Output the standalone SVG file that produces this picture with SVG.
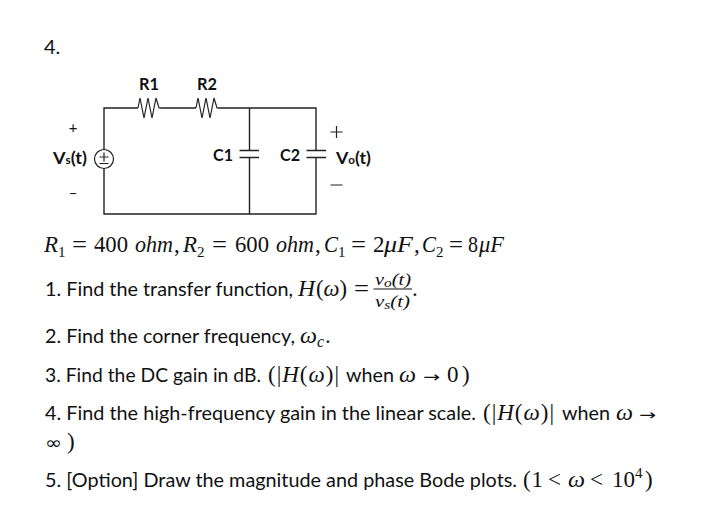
<svg xmlns="http://www.w3.org/2000/svg" width="714" height="529" viewBox="0 0 714 529">
<style>
text{fill:#111;white-space:pre}
.t{font-family:"Lato","Open Sans",sans-serif;font-size:20px}
.b{font-family:"Lato","Open Sans",sans-serif;font-size:17px;font-weight:700}
.l{font-family:"Lato","Open Sans",sans-serif;font-size:15px}
.m{font-family:"Liberation Serif","DejaVu Serif",serif;font-size:23px}
.i{font-family:"Liberation Serif","DejaVu Serif",serif;font-size:23px;font-style:italic}
.s{font-family:"Liberation Serif","DejaVu Serif",serif;font-size:15px}
.si{font-family:"Liberation Serif","DejaVu Serif",serif;font-size:16px;font-style:italic}
.a{font-family:"DejaVu Sans",sans-serif;font-size:15px}
.w{fill:none;stroke:#222;stroke-width:1.4}
.p{fill:none;stroke:#222;stroke-width:1.2}
</style>
<text class="t" x="44" y="54">4.</text>

<g id="connectors">
<path class="w" d="M104 150V108H138M160.500 108H196M218 108H316V151M316 157V214H104V168"/>
<path class="w" d="M249.500 108V151M249.500 157V214"/>
</g>
<g id="R1">
<path class="p" d="M138 108l2-10 4 20 4-20 4 20 4-20 3 10h2"/>
<text class="b" x="139" y="90" textLength="20" lengthAdjust="spacingAndGlyphs">R1</text>
</g>
<g id="R2">
<path class="p" d="M196 108l2-10 4 20 4-20 4 20 4-20 3 10h1"/>
<text class="b" x="197" y="90" textLength="20" lengthAdjust="spacingAndGlyphs">R2</text>
</g>
<g id="Vs">
<circle class="p" cx="104" cy="159" r="9.500"/>
<path class="p" d="M99.500 157h9M104 152.500v9M99.500 163.500h9"/>
<text class="b" x="53" y="164" textLength="34" lengthAdjust="spacingAndGlyphs">V<tspan font-size="11">s</tspan>(t)</text>
<text class="l" x="73" y="133" text-anchor="middle">+</text>
<text class="l" x="73" y="198" text-anchor="middle">–</text>
</g>
<g id="C1">
<path class="w" d="M239.500 150.500h19.500M239.500 157.500h19.500"/>
<text class="b" x="213" y="161" textLength="20" lengthAdjust="spacingAndGlyphs">C1</text>
</g>
<g id="C2">
<path class="w" d="M306.500 150.500h19.500M306.500 157.500h19.500"/>
<text class="b" x="280" y="161" textLength="20" lengthAdjust="spacingAndGlyphs">C2</text>
<path class="p" d="M330.500 132h12M336.500 126v12M330.500 185h12"/>
<text class="b" x="336" y="164" textLength="35" lengthAdjust="spacingAndGlyphs">V<tspan font-size="11">o</tspan>(t)</text>
</g>

<g id="values">
<text class="i" x="44" y="252" textLength="14" lengthAdjust="spacingAndGlyphs">R</text><text class="s" x="58" y="257">1</text>
<text class="m" x="72" y="252" textLength="15" lengthAdjust="spacingAndGlyphs">=</text><text class="m" x="94" y="252" textLength="34" lengthAdjust="spacingAndGlyphs">400</text>
<text class="i" x="135" y="252" textLength="38" lengthAdjust="spacingAndGlyphs">ohm</text><text class="m" x="174" y="252">,</text>
<text class="i" x="183" y="252" textLength="14" lengthAdjust="spacingAndGlyphs">R</text><text class="s" x="197" y="257">2</text>
<text class="m" x="212" y="252" textLength="15" lengthAdjust="spacingAndGlyphs">=</text><text class="m" x="235" y="252" textLength="34" lengthAdjust="spacingAndGlyphs">600</text>
<text class="i" x="276" y="252" textLength="38" lengthAdjust="spacingAndGlyphs">ohm</text><text class="m" x="315" y="252">,</text>
<text class="i" x="324" y="252" textLength="14" lengthAdjust="spacingAndGlyphs">C</text><text class="s" x="338" y="257">1</text>
<text class="m" x="351" y="252" textLength="15" lengthAdjust="spacingAndGlyphs">=</text><text class="m" x="373" y="252">2</text>
<text class="i" x="384" y="252" textLength="29" lengthAdjust="spacingAndGlyphs">μF</text><text class="m" x="414" y="252">,</text>
<text class="i" x="422" y="252" textLength="14" lengthAdjust="spacingAndGlyphs">C</text><text class="s" x="436" y="257">2</text>
<text class="m" x="449" y="252" textLength="14" lengthAdjust="spacingAndGlyphs">=</text><text class="m" x="468" y="252" textLength="10" lengthAdjust="spacingAndGlyphs">8</text>
<text class="i" x="479" y="252" textLength="25" lengthAdjust="spacingAndGlyphs">μF</text>
</g>

<g id="question1">
<text class="t" x="45" y="296" textLength="248" lengthAdjust="spacingAndGlyphs">1. Find the transfer function,</text>
<text class="i" x="298" y="296" textLength="17" lengthAdjust="spacingAndGlyphs">H</text><text class="m" x="316" y="296" textLength="31" lengthAdjust="spacingAndGlyphs">(<tspan font-style="italic">ω</tspan>)</text>
<text class="m" x="354" y="296" textLength="15" lengthAdjust="spacingAndGlyphs">=</text>
<path d="M373.500 289h38.500" stroke="#111" stroke-width="1.1"/>
<text class="si" x="375" y="285" textLength="36" lengthAdjust="spacingAndGlyphs">v<tspan font-size="12" dy="2">o</tspan><tspan dy="-2">(t)</tspan></text>
<text class="si" x="375" y="307" textLength="35" lengthAdjust="spacingAndGlyphs">v<tspan font-size="12" dy="2">s</tspan><tspan dy="-2">(t)</tspan></text>
<text class="m" x="412" y="296">.</text>
</g>
<g id="question2">
<text class="t" x="45" y="343" textLength="250" lengthAdjust="spacingAndGlyphs">2. Find the corner frequency,</text>
<text class="i" x="300" y="343" textLength="17" lengthAdjust="spacingAndGlyphs">ω</text><text class="si" x="317" y="347">c</text><text class="m" x="325" y="343">.</text>
</g>
<g id="question3">
<text class="t" x="45" y="382" textLength="216" lengthAdjust="spacingAndGlyphs" style="font-size:19.5px">3. Find the DC gain in dB.</text>
<text class="m" x="268" y="382" textLength="71" lengthAdjust="spacing">(|<tspan font-style="italic">H</tspan>(<tspan font-style="italic">ω</tspan>)|</text>
<text class="t" x="346" y="382" textLength="48" lengthAdjust="spacingAndGlyphs">when</text>
<text class="i" x="399" y="382" textLength="17" lengthAdjust="spacingAndGlyphs">ω</text><text class="a" x="423" y="382" textLength="17" lengthAdjust="spacingAndGlyphs">→</text>
<text class="m" x="447" y="382">0</text><text class="m" x="462" y="382">)</text>
</g>
<g id="question4">
<text class="t" x="45" y="420" textLength="431" lengthAdjust="spacingAndGlyphs">4. Find the high-frequency gain in the linear scale.</text>
<text class="m" x="483" y="420" textLength="71" lengthAdjust="spacing">(|<tspan font-style="italic">H</tspan>(<tspan font-style="italic">ω</tspan>)|</text>
<text class="t" x="562" y="420" textLength="48" lengthAdjust="spacingAndGlyphs">when</text>
<text class="i" x="616" y="420" textLength="17" lengthAdjust="spacingAndGlyphs">ω</text><text class="a" x="639" y="420" textLength="17" lengthAdjust="spacingAndGlyphs">→</text>
<text class="a" x="45" y="449" textLength="17" lengthAdjust="spacingAndGlyphs" style="font-size:18px">∞</text><text class="m" x="67" y="449">)</text>
</g>
<g id="question5">
<text class="t" x="45" y="487" textLength="472" lengthAdjust="spacingAndGlyphs">5. [Option] Draw the magnitude and phase Bode plots.</text>
<text class="m" x="523" y="487" textLength="20" lengthAdjust="spacing">(1</text><text class="m" x="548" y="487">&lt;</text><text class="i" x="568" y="487" textLength="17" lengthAdjust="spacingAndGlyphs">ω</text><text class="m" x="590" y="487">&lt;</text>
<text class="m" x="612" y="487" textLength="23" lengthAdjust="spacingAndGlyphs">10</text><text class="s" x="635" y="478">4</text><text class="m" x="645" y="487">)</text>
</g>
</svg>
